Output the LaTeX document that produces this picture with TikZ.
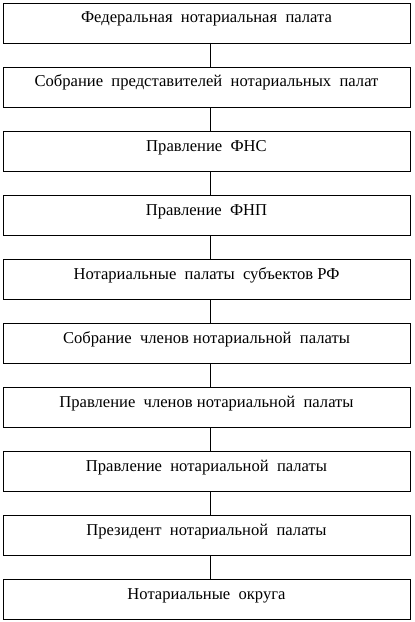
\documentclass[tikz,border=0pt]{standalone}
\usepackage{fontspec}
\setmainfont{Liberation Serif}
\usetikzlibrary{positioning}

\begin{document}
\begin{tikzpicture}[
    x=1bp, y=1bp,
    block/.style={rectangle, draw, line width=0.75pt, minimum width=407bp, inner xsep=0pt, inner ysep=0pt, outer sep=0pt, text height=20bp, text depth=20bp, font=\fontsize{16.6bp}{19bp}\selectfont},
    line/.style={draw, line width=0.75pt},
    node distance=24bp
]
    \useasboundingbox (0,0) rectangle (414,-622);

    % Nodes
    \node [block, anchor=north] (fnp) at (206.5,-3) {Федеральная~~нотариальная~~палата};
    \node [block, below=of fnp] (sobrpred) {Собрание~~представителей~~нотариальных~~палат};
    \node [block, below=of sobrpred] (pravfns) {Правление~~ФНС};
    \node [block, below=of pravfns] (pravfnp) {Правление~~ФНП};
    \node [block, below=of pravfnp] (npsub) {Нотариальные~~палаты~~субъектов РФ};
    \node [block, below=of npsub] (sobrchl) {Собрание~~членов нотариальной~~палаты};
    \node [block, below=of sobrchl] (pravchl) {Правление~~членов нотариальной~~палаты};
    \node [block, below=of pravchl] (pravnp) {Правление~~нотариальной~~палаты};
    \node [block, below=of pravnp] (prez) {Президент~~нотариальной~~палаты};
    \node [block, below=of prez] (okrug) {Нотариальные~~округа};

    % Vertical links
    \draw [line] ([xshift=4bp]fnp.south) -- ([xshift=4bp]sobrpred.north);
    \draw [line] ([xshift=4bp]sobrpred.south) -- ([xshift=4bp]pravfns.north);
    \draw [line] ([xshift=4bp]pravfns.south) -- ([xshift=4bp]pravfnp.north);
    \draw [line] ([xshift=4bp]pravfnp.south) -- ([xshift=4bp]npsub.north);
    \draw [line] ([xshift=4bp]npsub.south) -- ([xshift=4bp]sobrchl.north);
    \draw [line] ([xshift=4bp]sobrchl.south) -- ([xshift=4bp]pravchl.north);
    \draw [line] ([xshift=4bp]pravchl.south) -- ([xshift=4bp]pravnp.north);
    \draw [line] ([xshift=4bp]pravnp.south) -- ([xshift=4bp]prez.north);
    \draw [line] ([xshift=4bp]prez.south) -- ([xshift=4bp]okrug.north);

\end{tikzpicture}
\end{document}
